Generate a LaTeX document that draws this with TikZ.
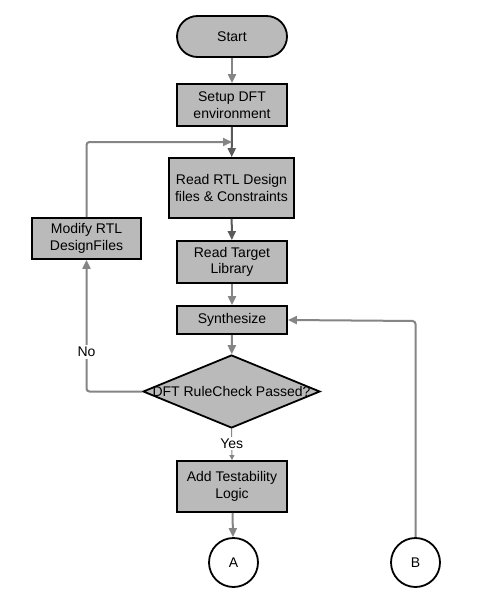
\documentclass[tikz,border=0pt]{standalone}
\usepackage{fontspec}
\setmainfont{Liberation Sans}
\usetikzlibrary{shapes.geometric,arrows.meta}
\begin{document}
\begin{tikzpicture}[x=1pt,y=-1pt,
  every node/.style={font=\fontsize{14}{16.5}\selectfont, align=center, inner sep=0pt},
  proc/.style={draw=black, line width=1.8pt, fill=procgray, minimum width=110pt, minimum height=42pt},
  flow/.style={draw=linegray, line width=2pt, -{Triangle[length=9pt,width=8pt]}},
  darkflow/.style={flow, draw=darkline},
  plain/.style={draw=linegray, line width=2pt, rounded corners=3pt},
  conn/.style={circle, draw=black, line width=1.8pt, fill=white, minimum size=49pt}
]
\definecolor{procgray}{HTML}{BABABA}
\definecolor{linegray}{HTML}{858585}
\definecolor{darkline}{HTML}{5A5A5A}
\useasboundingbox[fill=white] (0,0) rectangle (480,594);

\node[proc, rounded corners=20.5pt, minimum height=41pt] (start) at (232,36.5) {Start};
\node[proc] (setup) at (232,105) {Setup DFT\\environment};
\node[proc, minimum width=125pt, minimum height=60pt] (read) at (231.5,188) {Read RTL Design\\files \& Constraints};
\node[proc, minimum width=109pt, minimum height=41pt] (modify) at (86.5,238.5) {Modify RTL\\DesignFiles};
\node[proc] (target) at (232,262) {Read Target\\Library};
\node[proc, minimum height=28pt] (synth) at (232,320) {Synthesize};
\node[diamond, draw=black, line width=1.8pt, fill=procgray, minimum width=177pt, minimum height=73pt, aspect=2.4] (dia) at (231.5,391.5) {};
\node at (231.5,391.5) {DFT RuleCheck Passed?};
\node[proc, minimum height=51pt] (add) at (232,486.5) {Add Testability\\Logic};
\node[conn] (A) at (233.5,562.5) {A};
\node[conn] (B) at (415.5,562.5) {B};

\coordinate (merge) at (232,142);
\coordinate (topleft) at (86.5,142);
\coordinate (noturn) at (86.5,391.5);
\coordinate (bturn) at (415.5,321);

\draw[flow] (start) -- (setup);
\draw[darkflow] (setup) -- (read);
\draw[darkflow] (read) -- (target);
\draw[flow] (target) -- (synth);
\draw[flow] (synth) -- (dia);
\draw[flow, line width=1pt, -{Triangle[length=5pt,width=5pt]}] (dia.south) -- node[pos=0.48, fill=white, inner sep=1.5pt] (yes) {Yes} (add.north);
\draw[flow] (add) -- (A);
\draw[plain, -{Triangle[length=9pt,width=8pt]}] (dia.west) -- (noturn) -- node[pos=0.3, fill=white, inner sep=2pt] (no) {No} (modify.south);
\draw[plain, -{Triangle[length=9pt,width=8pt]}] (modify.north) -- (topleft) -- (merge);
\draw[plain, -{Triangle[length=9pt,width=8pt]}] (B.north) -- (bturn) -- (synth.east);
\end{tikzpicture}
\end{document}
